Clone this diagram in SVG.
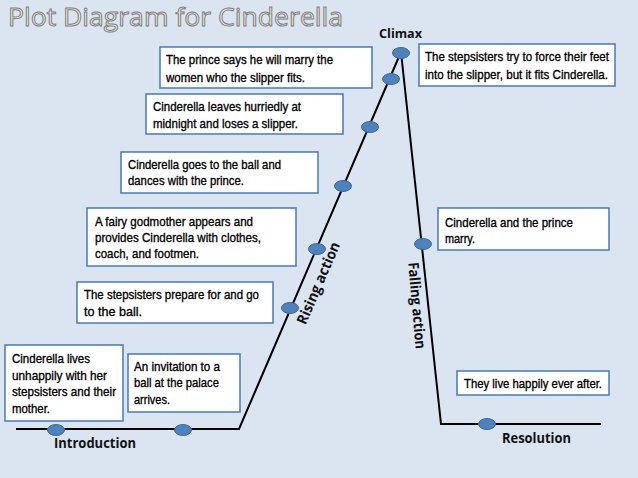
<svg xmlns="http://www.w3.org/2000/svg" width="638" height="478" viewBox="0 0 638 478">
<style>
.box{fill:#ffffff;stroke:#4f81bd;stroke-width:1.6}
.t{font-family:"Liberation Sans Narrow","Liberation Sans",Arial,sans-serif;font-size:13.5px;fill:#000;stroke:#000;stroke-width:0.35}
.lbl{font-family:"Open Sans","Noto Sans",sans-serif;font-weight:bold;fill:#111}
.dot{fill:#4f81bd;stroke:#3a6a9f;stroke-width:1}
.ln{fill:none;stroke:#000;stroke-width:2}
</style>
<rect width="638" height="478" fill="#dbe5f1"/>
<text x="8" y="26" font-family="'Open Sans','Noto Sans',sans-serif" font-size="26" fill="#f0ecdc" stroke="#7f7f7f" stroke-width="1" textLength="335" lengthAdjust="spacingAndGlyphs">Plot Diagram for Cinderella</text>

<g id="connectors">
<polyline class="ln" points="16,429 239,429 401,52 441,424 601,424"/>
</g>

<g id="dots">
<ellipse class="dot" cx="56" cy="430" rx="8.5" ry="5.5"/>
<ellipse class="dot" cx="183" cy="430" rx="8.5" ry="5.5"/>
<ellipse class="dot" cx="290" cy="308" rx="8.5" ry="5.5"/>
<ellipse class="dot" cx="317" cy="249" rx="8.5" ry="5.5"/>
<ellipse class="dot" cx="343" cy="186" rx="8.5" ry="5.5"/>
<ellipse class="dot" cx="370" cy="127" rx="8.5" ry="5.5"/>
<ellipse class="dot" cx="391" cy="79" rx="8.5" ry="5.5"/>
<ellipse class="dot" cx="401" cy="53" rx="8.5" ry="5.5"/>
<ellipse class="dot" cx="423" cy="244" rx="8.5" ry="5.5"/>
<ellipse class="dot" cx="487" cy="424" rx="8.5" ry="5.5"/>
</g>

<g id="labels">
<text class="lbl" x="379" y="38" font-size="13" textLength="43" lengthAdjust="spacingAndGlyphs">Climax</text>
<text class="lbl" x="54" y="448" font-size="15" textLength="82" lengthAdjust="spacingAndGlyphs">Introduction</text>
<text class="lbl" x="502" y="443" font-size="15" textLength="69" lengthAdjust="spacingAndGlyphs">Resolution</text>
<text class="lbl" font-size="14.5" text-anchor="middle" transform="translate(323,285) rotate(-66.7)" textLength="88" lengthAdjust="spacingAndGlyphs">Rising action</text>
<text class="lbl" font-size="14.5" text-anchor="middle" transform="translate(412,306) rotate(85)" textLength="87" lengthAdjust="spacingAndGlyphs">Falling action</text>
</g>

<g id="node-intro1">
<rect class="box" x="5" y="345" width="118" height="76"/>
<text class="t" x="12" y="363" textLength="78" lengthAdjust="spacingAndGlyphs">Cinderella lives</text>
<text class="t" x="12" y="380" textLength="95" lengthAdjust="spacingAndGlyphs">unhappily with her</text>
<text class="t" x="12" y="396" textLength="104" lengthAdjust="spacingAndGlyphs">stepsisters and their</text>
<text class="t" x="12" y="413" textLength="38" lengthAdjust="spacingAndGlyphs">mother.</text>
</g>

<g id="node-intro2">
<rect class="box" x="128" y="354" width="112" height="58"/>
<text class="t" x="134" y="371" textLength="86" lengthAdjust="spacingAndGlyphs">An invitation to a</text>
<text class="t" x="134" y="387" textLength="85" lengthAdjust="spacingAndGlyphs">ball at the palace</text>
<text class="t" x="134" y="404" textLength="36" lengthAdjust="spacingAndGlyphs">arrives.</text>
</g>

<g id="node-rise1">
<rect class="box" x="77" y="282" width="196" height="41"/>
<text class="t" x="84" y="299" textLength="175" lengthAdjust="spacingAndGlyphs">The stepsisters prepare for and go</text>
<text class="t" x="84" y="316" textLength="58" lengthAdjust="spacingAndGlyphs">to the ball.</text>
</g>

<g id="node-rise2">
<rect class="box" x="87" y="208" width="209" height="58"/>
<text class="t" x="95" y="226" textLength="158" lengthAdjust="spacingAndGlyphs">A fairy godmother appears and</text>
<text class="t" x="95" y="242" textLength="166" lengthAdjust="spacingAndGlyphs">provides Cinderella with clothes,</text>
<text class="t" x="95" y="258" textLength="104" lengthAdjust="spacingAndGlyphs">coach, and footmen.</text>
</g>

<g id="node-rise3">
<rect class="box" x="121" y="152" width="197" height="41"/>
<text class="t" x="128" y="169" textLength="153" lengthAdjust="spacingAndGlyphs">Cinderella goes to the ball and</text>
<text class="t" x="128" y="185" textLength="116" lengthAdjust="spacingAndGlyphs">dances with the prince.</text>
</g>

<g id="node-rise4">
<rect class="box" x="146" y="94" width="197" height="40"/>
<text class="t" x="153" y="111" textLength="148" lengthAdjust="spacingAndGlyphs">Cinderella leaves hurriedly at</text>
<text class="t" x="153" y="128" textLength="145" lengthAdjust="spacingAndGlyphs">midnight and loses a slipper.</text>
</g>

<g id="node-rise5">
<rect class="box" x="160" y="47" width="212" height="41"/>
<text class="t" x="166" y="64" textLength="167" lengthAdjust="spacingAndGlyphs">The prince says he will marry the</text>
<text class="t" x="166" y="82" textLength="139" lengthAdjust="spacingAndGlyphs">women who the slipper fits.</text>
</g>

<g id="node-climax">
<rect class="box" x="419" y="44" width="196" height="42"/>
<text class="t" x="425" y="61" textLength="184" lengthAdjust="spacingAndGlyphs">The stepsisters try to force their feet</text>
<text class="t" x="425" y="79" textLength="183" lengthAdjust="spacingAndGlyphs">into the slipper, but it fits Cinderella.</text>
</g>

<g id="node-fall">
<rect class="box" x="438" y="208" width="171" height="42"/>
<text class="t" x="445" y="227" textLength="128" lengthAdjust="spacingAndGlyphs">Cinderella and the prince</text>
<text class="t" x="445" y="243" textLength="30" lengthAdjust="spacingAndGlyphs">marry.</text>
</g>

<g id="node-resolution">
<rect class="box" x="457" y="371" width="152" height="24"/>
<text class="t" x="464" y="388" textLength="138" lengthAdjust="spacingAndGlyphs">They live happily ever after.</text>
</g>
</svg>
